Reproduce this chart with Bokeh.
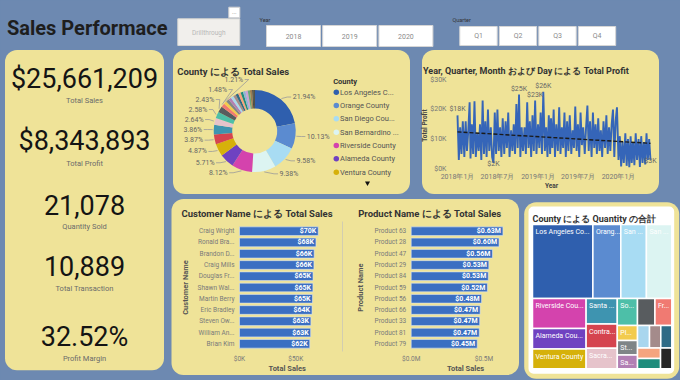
import numpy as np
import pandas as pd
from bokeh.plotting import figure
from bokeh.models import Range1d, BoxAnnotation, GlobalInlineStyleSheet
from bokeh.core.properties import value
from bokeh.embed import file_html
from bokeh.resources import INLINE

# ======================= DATA =======================
total_sales = 25661209
total_profit = 8343893
quantity_sold = 21078
total_transactions = 10889
kpi_labels = ["Total Sales", "Total Profit", "Quantity Sold", "Total Transaction", "Profit Margin"]

years = ["2018", "2019", "2020"]
quarters = ["Q1", "Q2", "Q3", "Q4"]

donut_counties = ["Los Angeles County", "Orange County", "San Diego County", "San Bernardino County",
                  "Riverside County", "Alameda County", "Ventura County", "Contra Costa County",
                  "Santa Clara County", "Sacramento County", "Sonoma County", "San Francisco County",
                  "Fresno County", "Placer County", "Stanislaus County", "San Mateo County", "Kern County",
                  "Marin County", "Tulare County", "Monterey County", "Santa Barbara County",
                  "San Joaquin County", "Santa Cruz County", "Yolo County", "Butte County", "Napa County",
                  "Solano County"]
donut_share = [21.94, 10.13, 9.58, 9.38, 8.12, 5.71, 4.87, 3.87, 3.86, 2.64, 2.58, 2.43, 1.48, 1.21,
               1.18, 1.15, 1.12, 1.08, 1.05, 1.02, 0.98, 0.95, 0.92, 0.88, 0.85, 0.60, 0.42]

customers = ["Craig Wright", "Ronald Bra...", "Brandon D...", "Craig Mills", "Douglas Fr...", "Shawn Wal...",
             "Martin Berry", "Eric Bradley", "Steven Ow...", "William An...", "Brian Kim"]
customer_sales = [69900, 67900, 66300, 66100, 65300, 65200, 64800, 64400, 63400, 63200, 62400]
customer_ticks = [0, 50000]

products = ["Product 63", "Product 28", "Product 47", "Product 29", "Product 84", "Product 59",
            "Product 56", "Product 66", "Product 33", "Product 81", "Product 79"]
product_sales = [631000, 604000, 559000, 534000, 530000, 524000, 484000, 474000, 471000, 468000, 454000]
product_ticks = [0, 500000]

tree_counties = ["Los Angeles County", "Orange County", "San Diego County", "San Bernardino County",
                 "Riverside County", "Alameda County", "Ventura County", "Santa Clara County",
                 "Contra Costa County", "Sacramento County", "Sonoma County", "San Francisco County",
                 "Fresno County", "Placer County", "Stanislaus County", "San Mateo County", "Kern County",
                 "Marin County", "Tulare County", "Monterey County", "Santa Barbara County", "Solano County"]
tree_quantity = [4691, 2171, 1987, 1972, 1677, 1160, 1111, 834, 791, 671, 569, 492, 475, 320, 307, 292,
                 285, 268, 261, 251, 249, 244]

# Total profit samples (thousand $), 5 samples per month (days 1, 7, 13, 19, 25)
profit_2018 = [18, 3, 14, 5, 16,   4, 16, 6, 13, 22.4,   3.5, 15, 5, 22.8, 4,   12, 6, 15, 3, 23,
               5, 16, 4, 20, 6,    14, 4, 2, 19, 5,      20, 6, 14, 4, 17,      5, 16, 7, 19, 4,
               13, 6, 15, 5, 21.8, 7, 25, 4, 14, 6,      14, 5, 22.4, 7, 16,    4, 18, 6, 23, 5]
profit_2019 = [15, 7, 19, 5, 26,   6, 14, 4, 18, 5,      17, 7, 20, 4, 15,      6, 20.7, 5, 14, 7,
               19, 4, 16, 6, 18,   5, 13, 7, 21, 6,      15, 4, 19, 8, 14,      5, 14, 21.3, 6, 16,
               4, 19, 7, 15, 5,    17, 6, 13, 4, 16,     7, 18, 5, 14, 6,       15, 20, 4, 16, 20.7]
profit_2020 = [3, 11, 0.8, 9, 2,   12, 1, 10, 0.5, 11,   2, 9, 1.2, 12, 3,      10, 0.6, 11, 2, 9,
               1.5, 12, 3, 10, 3]
sample_days = [1, 7, 13, 19, 25]
profit_label_dates = ["2018-01-01", "2018-06-13", "2018-10-07", "2018-12-19", "2019-01-25", "2020-05-25"]
profit_ticks_y = [0, 10000, 20000, 30000]
profit_ticks_x = ["2018-01-01", "2018-07-01", "2019-01-01", "2019-07-01", "2020-01-01"]

# ======================= STYLE =======================
FONT = value("Roboto")
BG = "#6d89b1"
PANEL = "#efe398"
BAR = "#3b6fc2"
COLORS = {
    "Los Angeles County": "#2f5fae", "Orange County": "#5b8bd0", "San Diego County": "#a8dcf3",
    "San Bernardino County": "#dcf4f2", "Riverside County": "#d443ad", "Alameda County": "#6f42c1",
    "Ventura County": "#d6b10a", "Contra Costa County": "#d5444f", "Santa Clara County": "#3e94b0",
    "Sacramento County": "#e6c3cb", "Sonoma County": "#4dbfa8", "San Francisco County": "#585c5f",
    "Fresno County": "#f07a72", "Placer County": "#f2cb4e", "Stanislaus County": "#7f8587",
    "San Mateo County": "#b27fb4", "Kern County": "#a9d6ee", "Marin County": "#a48b8b",
    "Tulare County": "#2f6b86", "Monterey County": "#f5a47f", "Santa Barbara County": "#1f8c7c",
    "Solano County": "#262626", "San Joaquin County": "#8db4d8", "Santa Cruz County": "#c7a1d9",
    "Yolo County": "#6aa67a", "Butte County": "#9b7c52", "Napa County": "#4a4a4a",
}

p = figure(width=680, height=380, x_range=Range1d(0, 680), y_range=Range1d(380, 0),
           output_backend="svg", toolbar_location=None, x_axis_type=None, y_axis_type=None,
           min_border=0, background_fill_color=BG, border_fill_color=BG, outline_line_color=None)
p.grid.visible = False
p.stylesheets = [GlobalInlineStyleSheet(css=f"html, body {{ background-color: {BG}; overflow: hidden; }}")]


def txt(x, y, s, size, color="#333333", bold=False, align="left", baseline="middle", angle=0, g=None):
    g = g or p
    g.text(x=[x], y=[y], text=[s], text_font=FONT, text_font_size=f"{size}px",
           text_font_style="bold" if bold else "normal", text_color=color,
           text_align=align, text_baseline=baseline, angle=angle)


def panel(l, t, r, b, color=PANEL, radius=12, line=None):
    p.add_layout(BoxAnnotation(left=l, right=r, top=t, bottom=b, fill_color=color, fill_alpha=1,
                               line_color=line or color, line_alpha=1 if line else 0,
                               line_width=1, border_radius=radius, level="underlay"))


def est_width(s, size):
    w = 0.0
    for ch in s:
        if ch in "iljtfrI.,' ":
            w += 0.27
        elif ch in "mwMW":
            w += 0.85
        elif ch.isupper() or ch.isdigit():
            w += 0.6
        else:
            w += 0.53
    return w * size


def fit(s, size, maxw):
    if est_width(s, size) <= maxw:
        return s
    while s and est_width(s + "...", size) > maxw:
        s = s[:-1]
    return s + "..." if len(s) >= 2 else ""


# ======================= HEADER =======================
txt(6.5, 27.5, "Sales Performace", 20, "#1e1e1e", bold=True)
panel(177.3, 18.3, 239.3, 45, color="#f1efec", radius=0, line="#d8d6d2")
txt(208.3, 32, "Drillthrough", 6.5, "#b8b8b8", align="center")
panel(228.3, 6.7, 239.3, 17.3, color="#ffffff", radius=0, line="#d0d0d0")
txt(233.8, 11.5, "···", 6, "#666666", align="center")

txt(259, 19.5, "Year", 5.5, "#333333")
for i, yr in enumerate(years):
    l = 266 + i * 56.2
    panel(l, 25, l + 54, 46, color="#ffffff", radius=0, line="#d6d6d6")
    txt(l + 27, 35.8, yr, 7, "#8a8a8a", align="center")
txt(452, 19.7, "Quarter", 5.5, "#333333")
for i, q in enumerate(quarters):
    l = 459.3 + i * 39.5
    panel(l, 26, l + 37.4, 45, color="#ffffff", radius=0, line="#d6d6d6")
    txt(l + 18.7, 35.8, q, 7, "#8a8a8a", align="center")

# ======================= KPI CARDS =======================
panel(4.5, 49.5, 163.5, 369.7)
kpi_texts = [f"${total_sales:,}", f"${total_profit:,}", f"{quantity_sold:,}", f"{total_transactions:,}",
             f"{total_profit / total_sales * 100:.2f}%"]
kpi_y = [78, 140.5, 204, 265.5, 336]
for s, lab, yy in zip(kpi_texts, kpi_labels, kpi_y):
    txt(84, yy, s, 27, "#141414", align="center")
    txt(84, yy + 22, lab, 7.5, "#6b6b6b", align="center")

# ======================= DONUT =======================
panel(172.5, 49.5, 409.5, 193.5)
txt(176.7, 70.5, "County による Total Sales", 9.5, "#333333", bold=True)
CX, CY, R_IN, R_OUT = 254.2, 130.5, 22.5, 41
shares = np.array(donut_share, dtype=float)
frac = shares / shares.sum()
cum = np.concatenate([[0.0], np.cumsum(frac)])
p.annular_wedge(x=CX, y=CY, inner_radius=R_IN, outer_radius=R_OUT,
                start_angle=np.pi / 2 - 2 * np.pi * cum[1:], end_angle=np.pi / 2 - 2 * np.pi * cum[:-1],
                fill_color=[COLORS[c] for c in donut_counties], line_color=None)

mids = (cum[:-1] + cum[1:]) / 2 * 2 * np.pi
labeled = [i for i in range(len(frac)) if frac[i] * 100 >= 1.2]
R_LAB, R_E = 44, 47
ly = {i: CY - R_LAB * np.cos(mids[i]) for i in labeled}
right = [i for i in labeled if mids[i] < np.pi]
left = [i for i in labeled if mids[i] >= np.pi]
prev = -1e9
for i in sorted(right, key=lambda k: ly[k]):
    ly[i] = max(ly[i], prev + 10)
    prev = ly[i]
prev = 1e9
for i in sorted(left, key=lambda k: -ly[k]):
    ly[i] = min(ly[i], prev - 10)
    prev = ly[i]
lxs, lys = [], []
for i in labeled:
    side = 1 if i in right else -1
    dy = ly[i] - CY
    dx = max(np.sqrt(max(R_E ** 2 - dy ** 2, 0.0)), 6.0)
    ex = CX + side * dx
    px0 = CX + (R_OUT + 1) * np.sin(mids[i])
    py0 = CY - (R_OUT + 1) * np.cos(mids[i])
    lxs.append([px0, ex, ex + side * 4])
    lys.append([py0, ly[i], ly[i]])
    txt(ex + side * 5.5, ly[i], f"{frac[i] * 100:.2f}%", 7, "#666666",
        align="left" if side > 0 else "right")
p.multi_line(xs=lxs, ys=lys, line_color="#9a9a9a", line_width=0.8)

# legend
txt(332.7, 80.5, "County", 7.5, "#333333", bold=True)
leg = donut_counties[:7]
for k, c in enumerate(leg):
    yy = 91.7 + k * 13.33
    p.scatter(x=[335.8], y=[yy], size=5.5, marker="circle", fill_color=COLORS[c], line_color=None)
    txt(339.5, yy, fit(c, 7.5, 57), 7.5, "#555555")
p.scatter(x=[367], y=[182.5], size=5, marker="inverted_triangle", fill_color="#111111", line_color=None)

# ======================= LINE CHART =======================
panel(421.5, 49.5, 658.5, 193.5)
txt(422.5, 70, "Year, Quarter, Month および Day による Total Profit", 9, "#333333", bold=True)
dates = []
for yr, arr in ((2018, profit_2018), (2019, profit_2019), (2020, profit_2020)):
    for m in range(len(arr) // len(sample_days)):
        for d in sample_days:
            dates.append(pd.Timestamp(year=yr, month=m + 1, day=d))
vals = np.array(profit_2018 + profit_2019 + profit_2020, dtype=float) * 1000
tms = np.array([d.value / 1e6 for d in dates])
t0 = pd.Timestamp("2018-01-01").value / 1e6
t1 = pd.Timestamp("2020-01-01").value / 1e6
ls = p.subplot(x_source=Range1d(t0, t1), y_source=Range1d(0, 30000),
               x_target=Range1d(457, 618), y_target=Range1d(168.3, 79.3))
ls.line(x=tms, y=vals, line_color="#3565b8", line_width=1.9)
days = (tms - tms[0]) / 86400000.0
slope, icpt = np.polyfit(days, vals, 1)
ls.line(x=[tms[0], tms[-1]], y=[icpt, icpt + slope * days[-1]], line_color="#1a1a1a",
        line_width=1.4, line_dash="4 2")
for ds in profit_label_dates:
    k = dates.index(pd.Timestamp(ds))
    hi = vals[k] > 10000
    ls.text(x=[tms[k]], y=[vals[k]], text=[f"${vals[k] / 1000:.0f}K"], text_font=FONT,
            text_font_size="7px", text_color="#666666", text_align="center",
            text_baseline="bottom" if hi else "middle", y_offset=-2 if hi else 1)
ls.text(x=[t0] * len(profit_ticks_y), y=profit_ticks_y, text=[f"${v // 1000}K" for v in profit_ticks_y],
        x_offset=-11, text_font=FONT, text_font_size="7px", text_color="#777777",
        text_align="right", text_baseline="middle")
tx = [pd.Timestamp(s) for s in profit_ticks_x]
ls.text(x=[t.value / 1e6 for t in tx], y=[0] * len(tx), text=[f"{t.year}年{t.month}月" for t in tx],
        y_offset=8.5, text_font=FONT, text_font_size="7px", text_color="#777777",
        text_align="center", text_baseline="middle")
txt(551, 185, "Year", 6.5, "#444444", bold=True, align="center")
txt(424.7, 125, "Total Profit", 6.5, "#444444", bold=True, align="center", angle=np.pi / 2)

# ======================= BAR CHARTS =======================
panel(171, 198.5, 518.5, 374.5)
p.line(x=[342, 342], y=[221, 351], line_color="#d2cdb0", line_width=1)


def bar_chart(title, tx0, names, vals_, ticks, fmt, tick_fmt, x0, x_tick, axis_title_x, ylab, ylab_x):
    txt(tx0, 213, title, 9.5, "#333333", bold=True)
    g = p.subplot(x_source=Range1d(0, ticks[-1]), y_source=Range1d(0, len(names) - 1),
                  x_target=Range1d(x0, x_tick), y_target=Range1d(230.7, 343.3))
    idx = list(range(len(names)))
    g.hbar(y=idx, left=0, right=vals_, height=0.77, fill_color=BAR, line_color="#dce5f3", line_width=0.6)
    g.text(x=vals_, y=idx, text=[fmt(v) for v in vals_], x_offset=-2, text_font=FONT, text_font_size="7px",
           text_font_style="bold", text_color="#ffffff", text_align="right", text_baseline="middle")
    g.text(x=[0] * len(names), y=idx, text=names, x_offset=-5, text_font=FONT, text_font_size="6.5px",
           text_color="#7a7a7a", text_align="right", text_baseline="middle")
    g.text(x=ticks, y=[len(names) - 1] * len(ticks), text=[tick_fmt(t) for t in ticks], y_offset=14.7,
           text_font=FONT, text_font_size="6.5px", text_color="#7a7a7a", text_align="center",
           text_baseline="middle")
    txt(axis_title_x, 368.3, "Total Sales", 7.5, "#555555", bold=True, align="center")
    txt(ylab_x, 287, ylab, 7.5, "#555555", bold=True, align="center", angle=np.pi / 2)


bar_chart("Customer Name による Total Sales", 181, customers, customer_sales, customer_ticks,
          lambda v: f"${v / 1000:.0f}K", lambda t: f"${t // 1000}K", 239, 295.3, 286.7,
          "Customer Name", 185)
bar_chart("Product Name による Total Sales", 357.7, products, product_sales, product_ticks,
          lambda v: f"${v / 1e6:.2f}M", lambda t: f"${t / 1e6:.1f}M", 410.7, 483.4, 465,
          "Product Name", 360)

# ======================= TREEMAP =======================
panel(523.7, 201.7, 678.7, 378.3)
panel(528, 206, 673.7, 373.3, color="#ffffff", radius=5)
txt(532, 218.3, "County による Quantity の合計", 9, "#333333", bold=True)


def squarify(values, x0, y0, x1, y1, ratio=(1 + 5 ** 0.5) / 2):
    rects = [None] * len(values)
    n = len(values)
    total = float(sum(values))
    i0 = 0
    while i0 < n:
        dx, dy = x1 - x0, y1 - y0
        i1 = i0
        s = float(values[i1])
        i1 += 1
        mn = mx = s
        alpha = max(dy / dx, dx / dy) / (total * ratio)
        beta = s * s * alpha
        min_ratio = max(mx / beta, beta / mn)
        while i1 < n:
            v = float(values[i1])
            s2 = s + v
            mn2, mx2 = min(mn, v), max(mx, v)
            beta = s2 * s2 * alpha
            r = max(mx2 / beta, beta / mn2)
            if r > min_ratio:
                break
            s, mn, mx, min_ratio = s2, mn2, mx2, r
            i1 += 1
        if dx < dy:
            yb = y0 + dy * s / total
            xx = x0
            for k in range(i0, i1):
                w = dx * values[k] / s
                rects[k] = (xx, y0, xx + w, yb)
                xx += w
            y0 = yb
        else:
            xr = x0 + dx * s / total
            yy = y0
            for k in range(i0, i1):
                h = dy * values[k] / s
                rects[k] = (x0, yy, xr, yy + h)
                yy += h
            x0 = xr
        total -= s
        i0 = i1
    return rects


rects = squarify(tree_quantity, 532, 224, 671.3, 368.3)
p.quad(left=[r[0] for r in rects], top=[r[1] for r in rects], right=[r[2] for r in rects],
       bottom=[r[3] for r in rects], fill_color=[COLORS[c] for c in tree_counties],
       line_color="#ffffff", line_width=1.5)
for c, r in zip(tree_counties, rects):
    w, h = r[2] - r[0], r[3] - r[1]
    if w >= 14 and h >= 12:
        lab = fit(c, 7, w - 5)
        if lab:
            txt(r[0] + 3, r[1] + 7.5, lab, 7, "#ffffff")

open("out.html", "w").write(file_html(p, INLINE))
